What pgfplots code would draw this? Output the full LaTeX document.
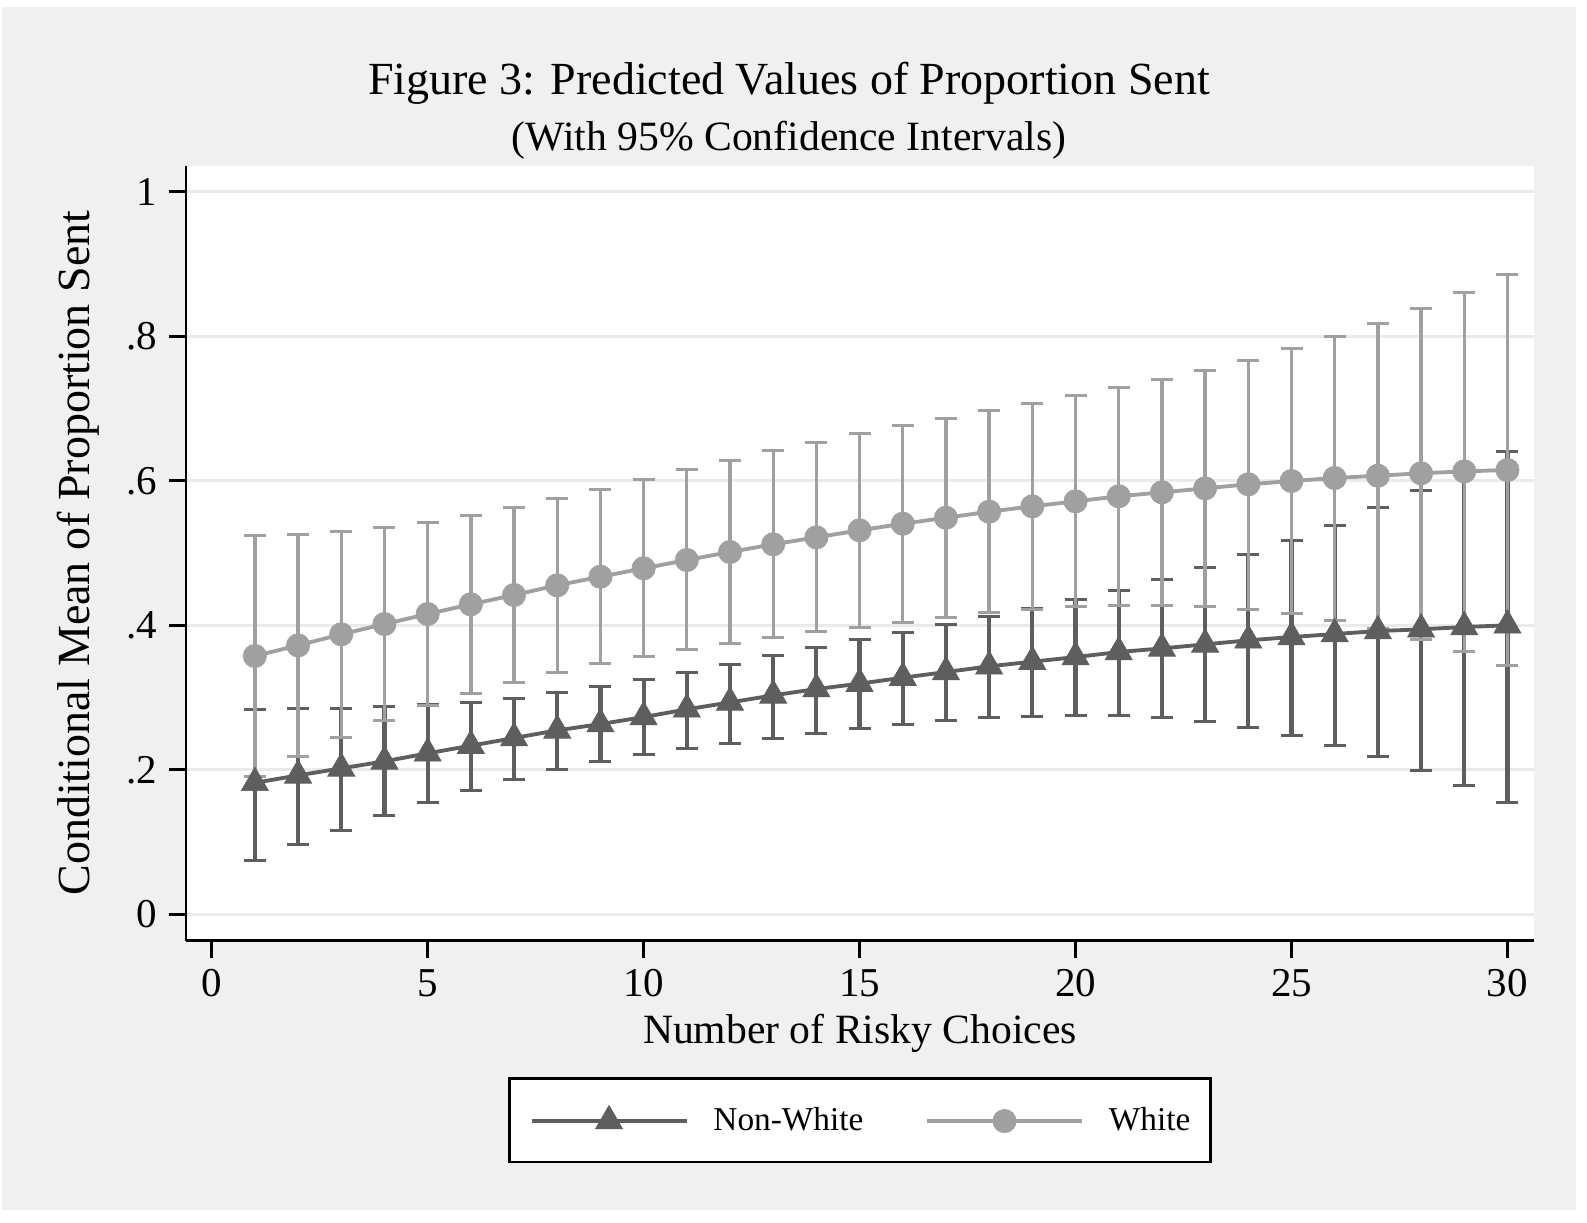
\documentclass[border=0pt]{standalone}
\usepackage{fontspec}
\setmainfont{Liberation Serif}
\usepackage{pgfplots}
\usepackage{pgfplotstable}
\pgfplotsset{compat=1.18}
\definecolor{nwgray}{RGB}{94,94,94}
\definecolor{wgray}{RGB}{160,160,160}
\definecolor{bggray}{RGB}{240,240,240}
\definecolor{gridgray}{RGB}{234,234,234}

\pgfplotstableread{
x y lo hi
1 0.1820 0.0751 0.2837
2 0.1923 0.0964 0.2846
3 0.2020 0.1162 0.2850
4 0.2117 0.1365 0.2873
5 0.2228 0.1545 0.2900
6 0.2334 0.1710 0.2933
7 0.2440 0.1863 0.2990
8 0.2546 0.2001 0.3067
9 0.2633 0.2112 0.3150
10 0.2730 0.2205 0.3252
11 0.2837 0.2288 0.3353
12 0.2933 0.2366 0.3464
13 0.3030 0.2436 0.3579
14 0.3118 0.2505 0.3695
15 0.3192 0.2569 0.3800
16 0.3275 0.2624 0.3907
17 0.3353 0.2679 0.4013
18 0.3432 0.2721 0.4118
19 0.3496 0.2744 0.4234
20 0.3560 0.2758 0.4350
21 0.3630 0.2749 0.4484
22 0.3680 0.2721 0.4630
23 0.3736 0.2666 0.4797
24 0.3792 0.2583 0.4977
25 0.3837 0.2472 0.5170
26 0.3879 0.2343 0.5383
27 0.3920 0.2181 0.5623
28 0.3944 0.1997 0.5862
29 0.3976 0.1785 0.6130
30 0.4000 0.1550 0.6402
}\nonwhite

\pgfplotstableread{
x y lo hi
1 0.3575 0.1914 0.5240
2 0.3722 0.2190 0.5259
3 0.3875 0.2450 0.5295
4 0.4017 0.2680 0.5350
5 0.4156 0.2887 0.5425
6 0.4290 0.3058 0.5522
7 0.4419 0.3215 0.5627
8 0.4553 0.3350 0.5751
9 0.4672 0.3468 0.5881
10 0.4788 0.3565 0.6020
11 0.4903 0.3658 0.6149
12 0.5014 0.3750 0.6283
13 0.5120 0.3828 0.6412
14 0.5217 0.3911 0.6532
15 0.5314 0.3976 0.6651
16 0.5405 0.4045 0.6762
17 0.5488 0.4114 0.6868
18 0.5572 0.4174 0.6970
19 0.5646 0.4225 0.7072
20 0.5715 0.4257 0.7177
21 0.5785 0.4276 0.7288
22 0.5840 0.4276 0.7404
23 0.5895 0.4262 0.7532
24 0.5951 0.4220 0.7671
25 0.5996 0.4160 0.7833
26 0.6038 0.4069 0.8003
27 0.6070 0.3958 0.8183
28 0.6103 0.3806 0.8390
29 0.6130 0.3644 0.8612
30 0.6149 0.3446 0.8857
}\white

\begin{document}
\begin{tikzpicture}
\fill[white] (-55.8pt,-84.39pt) rectangle (420.3pt,282.21pt);
\fill[bggray] (-55.2pt,-80.79pt) rectangle (417pt,280.11pt);
\begin{axis}[
  at={(0pt,0pt)}, anchor=south west,
  width=404.4pt, height=232.5pt, scale only axis,
  xmin=-0.595, xmax=30.615, ymin=-0.0365, ymax=1.036,
  axis x line*=bottom, axis y line*=left,
  axis line style={line width=0.8pt, black, -},
  axis background/.style={fill=white},
  xtick={0,5,...,30},
  ytick={0,0.2,0.4,0.6,0.8,1},
  yticklabels={0,.2,.4,.6,.8,1},
  tick align=outside, major tick length=5.1pt,
  tick style={line width=0.8pt, black},
  ymajorgrids, major grid style={gridgray, line width=0.9pt},
  ticklabel style={font=\fontsize{12.3}{14}\selectfont},
  /pgf/number format/assume math mode=true,
  xlabel={Number of Risky Choices},
  ylabel={Conditional Mean of Proportion Sent},
  xlabel style={at={(axis description cs:0.5,-0.132)}, anchor=base, font=\fontsize{12.5}{15}\selectfont},
  ylabel style={at={(axis description cs:-0.0718,0.5)}, anchor=base, font=\fontsize{13.8}{16}\selectfont},
  legend columns=2,
  legend style={at={(0.5,-0.1765)}, anchor=north, draw=black, line width=0.75pt, fill=white,
    font=\fontsize{10}{12}\selectfont, inner xsep=6pt, inner ysep=8pt,
    nodes={inner sep=0pt},
    /tikz/every odd column/.append style={column sep=7.5pt},
    /tikz/every even column/.append style={column sep=18.5pt}},
  legend image code/.code={\draw[mark repeat=2, mark phase=2] plot coordinates {(0pt,0pt) (23.25pt,0pt) (46.5pt,0pt)};},
]
\addplot[forget plot, only marks, mark=none, nwgray,
  error bars/.cd, y dir=both, y explicit,
  error bar style={line width=1.25pt, nwgray},
  error mark options={rotate=90, nwgray, mark size=3.3pt, line width=0.9pt}]
  table[x=x, y=y, y error plus expr=\thisrow{hi}-\thisrow{y}, y error minus expr=\thisrow{y}-\thisrow{lo}] {\nonwhite};
\addplot[forget plot, only marks, mark=none, wgray,
  error bars/.cd, y dir=both, y explicit,
  error bar style={line width=1.0pt, wgray},
  error mark options={rotate=90, wgray, mark size=3.3pt, line width=0.9pt}]
  table[x=x, y=y, y error plus expr=\thisrow{hi}-\thisrow{y}, y error minus expr=\thisrow{y}-\thisrow{lo}] {\white};
\addplot[nwgray, line width=1.15pt, mark=triangle*, mark size=4.7pt, mark options={solid, fill=nwgray, draw=nwgray, line width=0.2pt}]
  table[x=x, y=y] {\nonwhite};
\addlegendentry{Non-White}
\addplot[wgray, line width=1.15pt, mark=*, mark size=3.5pt, mark options={solid, fill=wgray, draw=wgray, line width=0.2pt}]
  table[x=x, y=y] {\white};
\addlegendentry{White}
\end{axis}
\node[anchor=base, font=\fontsize{13.8}{16}\selectfont] at (180.9pt,254.0pt) {Figure 3: Predicted Values of Proportion Sent};
\node[anchor=base, font=\fontsize{12.5}{15}\selectfont] at (180.9pt,237.2pt) {(With 95\% Confidence Intervals)};
\pgfresetboundingbox
\useasboundingbox (-55.8pt,-84.39pt) rectangle (420.3pt,282.21pt);
\end{tikzpicture}
\end{document}
